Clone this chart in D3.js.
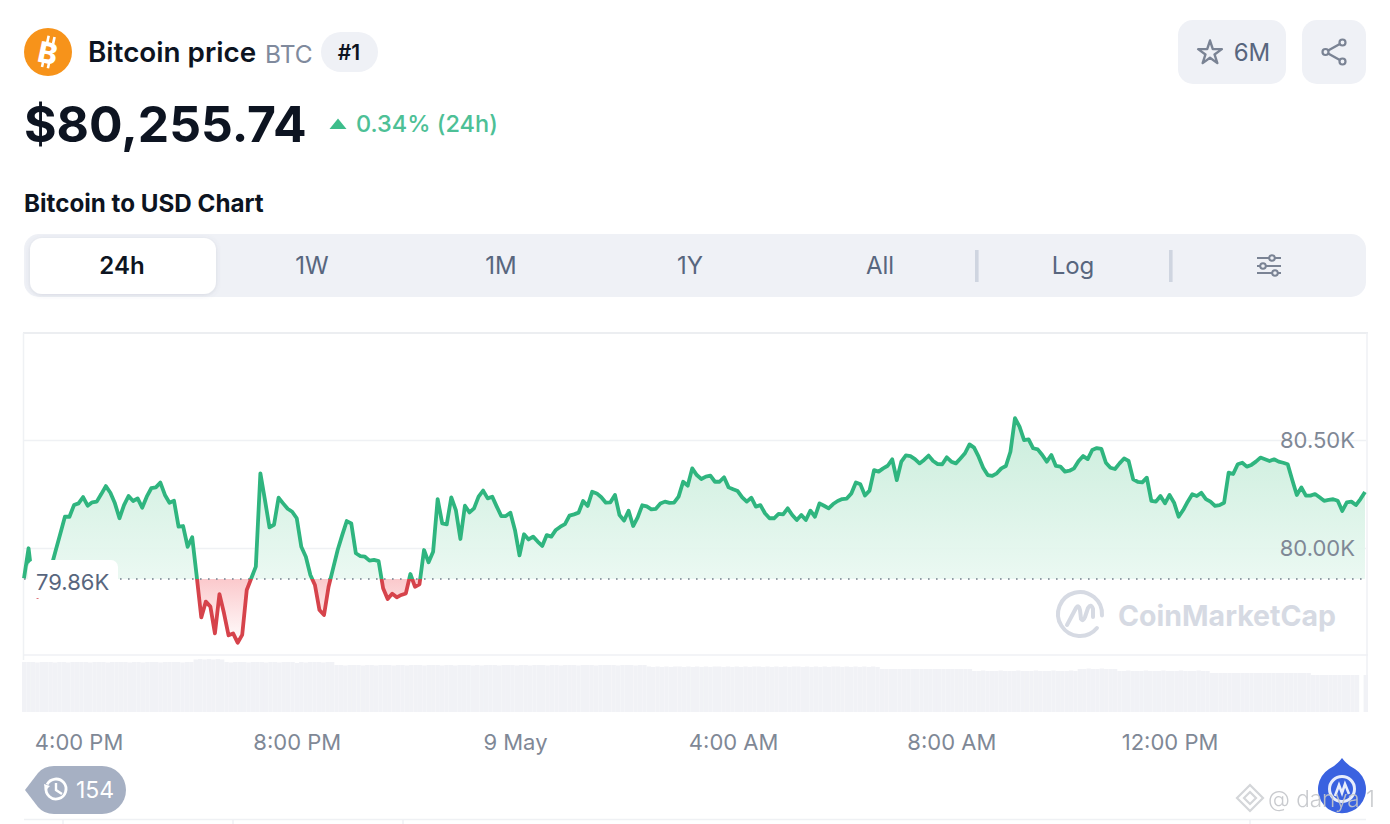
<!DOCTYPE html>
<html>
<head>
<meta charset="utf-8">
<title>Bitcoin price</title>
<script src="https://cdn.jsdelivr.net/npm/d3@7"></script>
<style>
  html, body { margin: 0; padding: 0; background: #fff; overflow: hidden; }
  svg { display: block; font-family: Inter, "Noto Sans", sans-serif; }
</style>
</head>
<body>
<svg id="page" width="1390" height="824"></svg>
<script>
// ------------------------------------
// Data
// ------------------------------------
const startTime = new Date(2025, 4, 8, 15, 0);
const stepMinutes = 5;
const basePrice = 79859;

// BTC price in USD, one value every 5 minutes
const priceValues = [
  79862,80001,79823,79777,79800,79854,79916,79993,80070,80147,80147,80201,80209,80238,80198,80214,
  80217,80252,80289,80258,80209,80140,80201,80243,80220,80232,80189,80240,80279,80283,80305,80248,
  80212,80221,80101,80104,80008,80052,79870,79681,79754,79731,79607,79789,79700,79598,79607,79564,
  79600,79808,79862,79916,80348,80225,80098,80110,80235,80209,80184,80170,80140,80008,79962,79877,
  79831,79715,79692,79823,79908,79993,80062,80127,80116,79978,79965,79962,79944,79947,79942,79816,
  79766,79791,79774,79785,79792,79882,79823,79834,79993,79936,79985,80229,80116,80112,80237,80178,
  80044,80198,80167,80186,80240,80268,80232,80240,80194,80150,80150,80166,80086,79968,80066,80042,
  80055,80032,80012,80062,80055,80086,80101,80113,80152,80158,80166,80220,80197,80263,80255,80237,
  80212,80214,80248,80155,80129,80175,80104,80144,80200,80195,80181,80184,80208,80217,80211,80212,
  80240,80309,80291,80371,80340,80322,80333,80337,80309,80309,80330,80283,80274,80266,80237,80217,
  80235,80194,80201,80163,80140,80140,80160,80158,80186,80155,80132,80155,80132,80175,80147,80209,
  80198,80186,80206,80220,80229,80231,80255,80306,80297,80245,80268,80363,80356,80371,80383,80413,
  80317,80402,80431,80428,80414,80394,80410,80430,80405,80391,80390,80422,80402,80394,80417,80441,
  80482,80467,80425,80374,80340,80336,80348,80371,80382,80448,80603,80564,80502,80505,80464,80459,
  80433,80402,80433,80382,80379,80356,80360,80371,80405,80428,80414,80456,80465,80461,80397,80374,
  80368,80394,80417,80405,80320,80309,80306,80328,80221,80217,80243,80209,80248,80212,80147,80178,
  80217,80251,80243,80258,80229,80217,80197,80201,80212,80351,80345,80390,80397,80379,80387,80402,
  80421,80413,80405,80413,80402,80397,80390,80317,80248,80283,80245,80245,80252,80237,80221,80225,
  80228,80221,80174,80214,80217,80201,80229,80262
];

// volume bars, same 5 minute steps (relative height)
const volumeValues = [
  50,50,50,49.5,50,50,50,49.5,50,50,49.5,50,50,50,50,49.5,50,50,50,49.5,
  50,50,50,50,49.5,50,50,49.5,50,50,50,49.5,50,50,50,50,49.5,50,50,
  52.5,53,52.5,53,52.5,53,52.5,
  50,49.5,50,50,50,49.5,50,50,50,49.5,50,50,49.5,50,50,50,49,50,49.5,50,50,50,49.5,50,50,
  47,47,46.5,47,47,47,46.5,47,47,46.5,47,47,47,46.5,47,47,46.5,47,47,47,46.5,47,47,47,46.5,
  47,47,46.5,47,47,47,46.5,47,46.5,47,47,47,46.5,47,47,47,46.5,47,47,46.5,47,47,47,46.5,47,
  47,46.5,47,47,47,46.5,47,47,47,46.5,47,47,47,47,46.5,47,47,47,46.5,47,47,
  45.5,45,45.5,45,45.5,45,45.5,45.5,45,45.5,45,45.5,45,45.5,45,45.5,45.5,45,45.5,45,45.5,45,45.5,45,
  45.5,45.5,45,45.5,45,45.5,45,45.5,45,45.5,45.5,45,45.5,45,45.5,45,45.5,45,45.5,45.5,45,45.5,45,45.5,
  45,45.5,45,45.5,45,
  43,43,43,43,43,43,43,43,43,43,43,43,43,43,43,43,43,43,43,43,43,
  41,41,41.5,41,41,41,41.5,41,41,41,41.5,41,41,41,41.5,41,41,41,41.5,41,41,41,41.5,41,
  43,43,43.5,43,43,43.5,43,43,43,
  41,41,41.5,41,41,41,41.5,41,41,41,41.5,41,41,41,41.5,41,41,41,41.5,41,41,
  39,39,39,39,39,39,39,39,39,39,39,39,39,39,39,39,39,39,39,39,39,39,39,
  37,37,37,37,37,37,37,37,37,37,37,
  0,37
];

const yTickValues = [80000, 80500];
const yTickLabels = ["80.00K", "80.50K"];
const xTickHours = [1, 5, 9, 13, 17, 21];
const xTickLabels = ["4:00 PM", "8:00 PM", "9 May", "4:00 AM", "8:00 AM", "12:00 PM"];
const rangeLabels = ["24h", "1W", "1M", "1Y", "All"];
const rangeCenters = [122, 312, 501, 690, 880];

// ------------------------------------
// Colours
// ------------------------------------
const GREEN = "#2fb57f";
const RED = "#d6434b";
const GREY_TEXT = "#58667e";
const AXIS_TEXT = "#7f8896";
const DARK_TEXT = "#0d1421";
const PANEL = "#eff1f6";
const GRID = "#eff1f4";

const svg = d3.select("#page");

function label(x, y, str, size, weight, color, anchor) {
  return svg.append("text")
    .attr("x", x)
    .attr("y", y)
    .attr("text-anchor", anchor || "start")
    .attr("dominant-baseline", "central")
    .style("font-size", size + "px")
    .style("font-weight", weight)
    .attr("fill", color)
    .text(str);
}

// ------------------------------------
// Defs
// ------------------------------------
const defs = svg.append("defs");

const greenGrad = defs.append("linearGradient").attr("id", "greenFill")
  .attr("gradientUnits", "userSpaceOnUse")
  .attr("x1", 0).attr("x2", 0).attr("y1", 420).attr("y2", 579);
greenGrad.append("stop").attr("offset", 0).attr("stop-color", "#c6ecd9");
greenGrad.append("stop").attr("offset", 1).attr("stop-color", "#e9f8f1");

const redGrad = defs.append("linearGradient").attr("id", "redFill")
  .attr("gradientUnits", "userSpaceOnUse")
  .attr("x1", 0).attr("x2", 0).attr("y1", 579).attr("y2", 645);
redGrad.append("stop").attr("offset", 0).attr("stop-color", "#fbc9cc");
redGrad.append("stop").attr("offset", 1).attr("stop-color", "#ffffff");

const blur = defs.append("filter").attr("id", "softShadow")
  .attr("x", "-10%").attr("y", "-20%").attr("width", "120%").attr("height", "150%");
blur.append("feDropShadow").attr("dx", 0).attr("dy", 1).attr("stdDeviation", 2.5)
  .attr("flood-color", "#58667e").attr("flood-opacity", 0.18);

defs.append("clipPath").attr("id", "aboveBase").append("rect")
  .attr("x", 0).attr("y", 333).attr("width", 1390).attr("height", 246);
defs.append("clipPath").attr("id", "belowBase").append("rect")
  .attr("x", 0).attr("y", 579).attr("width", 1390).attr("height", 77);

// ------------------------------------
// Header
// ------------------------------------
svg.append("circle").attr("cx", 48).attr("cy", 52).attr("r", 24).attr("fill", "#f7931a");
label(48, 53, "B", 29, 800, "#fff", "middle")
  .attr("transform", "rotate(12 48 52)");
const coinBars = svg.append("g").attr("transform", "rotate(12 48 52)").attr("fill", "#fff");
[-3, 3].forEach(d => {
  coinBars.append("rect").attr("x", 47 + d).attr("y", 36).attr("width", 2.6).attr("height", 7);
  coinBars.append("rect").attr("x", 47 + d).attr("y", 61).attr("width", 2.6).attr("height", 7);
});
label(88, 52, "Bitcoin price", 27.8, 600, DARK_TEXT);
label(265, 54, "BTC", 24.5, 400, "#808a9d");
svg.append("rect").attr("x", 321).attr("y", 32).attr("width", 57).attr("height", 40)
  .attr("rx", 20).attr("fill", PANEL);
label(349, 52, "#1", 21, 600, DARK_TEXT, "middle");

label(24, 124, "$80,255.74", 49.8, 700, DARK_TEXT);
svg.append("path").attr("d", "M329.5 129 L338 118.5 L346.5 129 Z").attr("fill", "#3dbd8b");
label(356, 123, "0.34% (24h)", 23.5, 500, "#4dc096");

// 6M and share buttons
svg.append("rect").attr("x", 1178).attr("y", 20).attr("width", 108).attr("height", 64)
  .attr("rx", 15).attr("fill", PANEL);
svg.append("rect").attr("x", 1302).attr("y", 20).attr("width", 64).attr("height", 64)
  .attr("rx", 15).attr("fill", PANEL);
svg.append("path")
  .attr("d", d3.symbol(d3.symbolStar, 175)())
  .attr("transform", "translate(1210,53)")
  .attr("fill", "none").attr("stroke", "#7a8394").attr("stroke-width", 2.4)
  .attr("stroke-linejoin", "round");
label(1252, 52, "6M", 24, 400, GREY_TEXT, "middle");

const shareNodes = [[1342.5, 42.5], [1325.5, 52], [1342.5, 61.5]];
svg.append("path")
  .attr("d", d3.line()(shareNodes))
  .attr("fill", "none").attr("stroke", "#7a8394").attr("stroke-width", 2.4);
svg.append("g")
  .selectAll("circle").data(shareNodes).join("circle")
  .attr("cx", d => d[0]).attr("cy", d => d[1]).attr("r", 3)
  .attr("fill", PANEL).attr("stroke", "#7a8394").attr("stroke-width", 2.2);

// ------------------------------------
// Range selector
// ------------------------------------
label(24, 203, "Bitcoin to USD Chart", 24.2, 700, DARK_TEXT);

svg.append("rect").attr("x", 24).attr("y", 234).attr("width", 1342).attr("height", 63)
  .attr("rx", 15).attr("fill", PANEL);
svg.append("rect").attr("x", 30).attr("y", 238).attr("width", 186).attr("height", 56)
  .attr("rx", 12).attr("fill", "#fff").attr("filter", "url(#softShadow)");

rangeLabels.forEach((d, i) => {
  label(rangeCenters[i], 265, d, 24, i === 0 ? 600 : 400, i === 0 ? DARK_TEXT : GREY_TEXT, "middle");
});
label(1073, 265, "Log", 24, 400, GREY_TEXT, "middle");

svg.selectAll("rect.sep").data([977, 1171]).join("rect").attr("class", "sep")
  .attr("x", d => d - 2).attr("y", 250).attr("width", 3.6).attr("height", 32)
  .attr("fill", "#cfd5e0");

// slider icon
[[258, 1272], [266, 1263], [273, 1275]].forEach(([yy, knob]) => {
  svg.append("line").attr("x1", 1257).attr("x2", 1281).attr("y1", yy).attr("y2", yy)
    .attr("stroke", "#7a8394").attr("stroke-width", 2);
  svg.append("circle").attr("cx", knob).attr("cy", yy).attr("r", 2.8)
    .attr("fill", PANEL).attr("stroke", "#7a8394").attr("stroke-width", 2);
});

// ------------------------------------
// Chart scales
// ------------------------------------
const times = priceValues.map((d, i) => d3.timeMinute.offset(startTime, i * stepMinutes));
const series = priceValues.map((d, i) => ({ date: times[i], price: d }));

const x = d3.scaleTime()
  .domain([times[0], times[times.length - 1]])
  .range([24, 1365]);

const y = d3.scaleLinear()
  .domain([80000, 80500])
  .range([548.5, 440.5]);

const xBand = d3.scaleBand()
  .domain(d3.range(volumeValues.length))
  .range([22, 1368]);

const yVolume = d3.scaleLinear().domain([0, 60]).range([712, 652]);

// ------------------------------------
// Frame and grid
// ------------------------------------
svg.append("line").attr("x1", 23).attr("x2", 1368).attr("y1", 333).attr("y2", 333)
  .attr("stroke", "#e6e8ec").attr("stroke-width", 1.5);
svg.append("line").attr("x1", 23.5).attr("x2", 23.5).attr("y1", 333).attr("y2", 660)
  .attr("stroke", GRID).attr("stroke-width", 1.5);
svg.append("line").attr("x1", 1367).attr("x2", 1367).attr("y1", 333).attr("y2", 712)
  .attr("stroke", GRID).attr("stroke-width", 1.5);
svg.append("line").attr("x1", 23).attr("x2", 1368).attr("y1", 655).attr("y2", 655)
  .attr("stroke", GRID).attr("stroke-width", 1.5);

svg.selectAll("line.grid").data(yTickValues).join("line").attr("class", "grid")
  .attr("x1", 24).attr("x2", 1366)
  .attr("y1", d => y(d)).attr("y2", d => y(d))
  .attr("stroke", GRID).attr("stroke-width", 1.5);

// ------------------------------------
// Volume
// ------------------------------------
svg.append("g").selectAll("rect").data(volumeValues).join("rect")
  .attr("x", (d, i) => xBand(i))
  .attr("width", xBand.bandwidth())
  .attr("y", d => yVolume(d))
  .attr("height", d => yVolume(0) - yVolume(d))
  .attr("fill", "#f1f2f6");

// ------------------------------------
// Price area and line, split on base price
// ------------------------------------
const area = d3.area()
  .x(d => x(d.date))
  .y0(y(basePrice))
  .y1(d => y(d.price));

const line = d3.line()
  .x(d => x(d.date))
  .y(d => y(d.price));

svg.append("path").datum(series)
  .attr("d", area).attr("fill", "url(#greenFill)")
  .attr("clip-path", "url(#aboveBase)").attr("opacity", 0.92);
svg.append("path").datum(series)
  .attr("d", area).attr("fill", "url(#redFill)")
  .attr("clip-path", "url(#belowBase)");

svg.append("line")
  .attr("x1", 24).attr("x2", 1366)
  .attr("y1", y(basePrice)).attr("y2", y(basePrice))
  .attr("stroke", "#737d8c").attr("stroke-width", 1.6)
  .attr("stroke-dasharray", "1.6 6.4");

svg.append("path").datum(series)
  .attr("d", line).attr("fill", "none").attr("stroke", GREEN).attr("stroke-width", 3.8)
  .attr("stroke-linejoin", "round").attr("clip-path", "url(#aboveBase)");
svg.append("path").datum(series)
  .attr("d", line).attr("fill", "none").attr("stroke", RED).attr("stroke-width", 3.8)
  .attr("stroke-linejoin", "round").attr("clip-path", "url(#belowBase)");

// base price tag
svg.append("rect").attr("x", 28).attr("y", 560).attr("width", 90).attr("height", 38)
  .attr("rx", 7).attr("fill", "#fff");
label(36, 582, "79.86K", 22, 400, GREY_TEXT);

// ------------------------------------
// Axes
// ------------------------------------
const xAxis = svg.append("g")
  .attr("transform", "translate(0,731)")
  .call(d3.axisBottom(x)
    .tickValues(xTickHours.map(h => d3.timeHour.offset(startTime, h)))
    .tickFormat((d, i) => xTickLabels[i])
    .tickSize(0));
xAxis.select(".domain").remove();
xAxis.selectAll("text")
  .attr("fill", AXIS_TEXT)
  .style("font-family", "Inter")
  .style("font-size", "22px");

const yAxis = svg.append("g")
  .attr("transform", "translate(1358,0)")
  .call(d3.axisLeft(y)
    .tickValues(yTickValues)
    .tickFormat((d, i) => yTickLabels[i])
    .tickSize(0));
yAxis.select(".domain").remove();
yAxis.selectAll("text")
  .attr("fill", AXIS_TEXT)
  .style("font-family", "Inter")
  .style("font-size", "22px");

// ------------------------------------
// CoinMarketCap watermark
// ------------------------------------
const logo = svg.append("g").attr("transform", "translate(1080,614)")
  .attr("fill", "none").attr("stroke", "#d6dae3").attr("stroke-width", 4)
  .attr("stroke-linecap", "round").attr("stroke-linejoin", "round");
logo.append("path").attr("d", d3.arc()({
  innerRadius: 22, outerRadius: 22,
  startAngle: Math.PI * 0.72, endAngle: Math.PI * 2.52
}));
logo.append("path").attr("d", "M-13 11 L-4 -6 Q-1 -10 0 -4 L1 5 Q3 8 5 3 L8 -6 Q11 -11 13 -5 L13 3");
label(1118, 615, "CoinMarketCap", 28.5, 700, "#d6dae3");

// ------------------------------------
// History pill
// ------------------------------------
svg.append("path")
  .attr("d", "M25 790 L38 773 Q44 766 54 766 L102 766 A24 24 0 0 1 102 814 L54 814 Q44 814 38 807 Z")
  .attr("fill", "#a6b0c3");
svg.append("path")
  .attr("d", d3.arc()({ innerRadius: 10, outerRadius: 10, startAngle: -Math.PI * 0.35, endAngle: Math.PI * 1.55 }))
  .attr("transform", "translate(56,789)")
  .attr("fill", "none").attr("stroke", "#fff").attr("stroke-width", 2.8);
svg.append("path")
  .attr("d", "M56 783 L56 790 L62 794")
  .attr("fill", "none").attr("stroke", "#fff").attr("stroke-width", 2.4);
svg.append("path").attr("d", "M44 784 L50 786 L45 791 Z").attr("fill", "#fff");
label(95, 790, "154", 23, 400, "#fff", "middle");

// footer hairline
svg.append("line").attr("x1", 24).attr("x2", 1366).attr("y1", 819.5).attr("y2", 819.5)
  .attr("stroke", GRID).attr("stroke-width", 1.5);
svg.selectAll("line.foot").data([63, 233, 403, 1250]).join("line").attr("class", "foot")
  .attr("x1", d => d).attr("x2", d => d).attr("y1", 820).attr("y2", 824)
  .attr("stroke", GRID).attr("stroke-width", 1.5);

// ------------------------------------
// Blue badge and watermark text
// ------------------------------------
svg.append("path")
  .attr("d", "M1342 758 Q1347 765 1355 769 A24 24 0 1 1 1329 769 Q1337 765 1342 758 Z")
  .attr("fill", "#3a62e0");
svg.append("circle").attr("cx", 1342).attr("cy", 789).attr("r", 12.5)
  .attr("fill", "none").attr("stroke", "#e8edfb").attr("stroke-width", 3);
svg.append("path").attr("d", "M1335 796 L1339 785 L1342 793 L1345 784 L1349 794")
  .attr("fill", "none").attr("stroke", "#e8edfb").attr("stroke-width", 2.6);

const mark = svg.append("g").attr("transform", "translate(1250,798)")
  .attr("fill", "none").attr("stroke", "#d4d6d9").attr("stroke-width", 2.2);
mark.append("path").attr("d", "M0 -13 L13 0 L0 13 L-13 0 Z");
mark.append("path").attr("d", "M0 -6 L6 0 L0 6 L-6 0 Z");
label(1268, 798, "@ danya 1", 22.5, 300, "#c4c6ca").attr("opacity", 0.92);
</script>
</body>
</html>
